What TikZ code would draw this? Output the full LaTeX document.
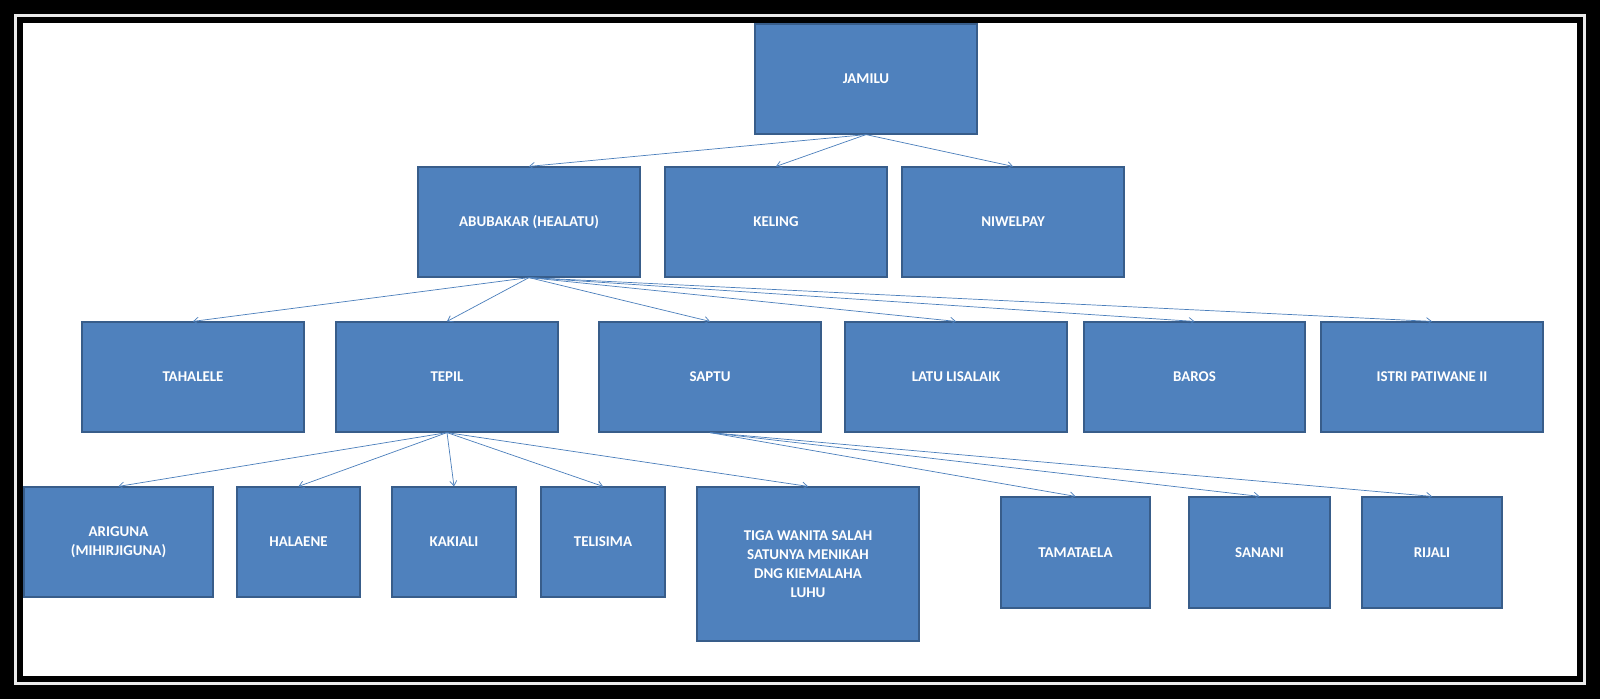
\documentclass[tikz,border=0pt]{standalone}
\usepackage{fontspec}
\setmainfont{Carlito}
\usetikzlibrary{arrows.meta}
\definecolor{bfill}{HTML}{4F81BD}
\definecolor{bdraw}{HTML}{385D8A}
\definecolor{lnk}{HTML}{4A7EBB}
\newcommand\bxat[6]{%
 \pgfmathsetmacro\bw{#4-#2}\pgfmathsetmacro\bh{#5-#3}%
 \pgfmathsetmacro\bcx{(#2+#4)/2}\pgfmathsetmacro\bcy{(#3+#5)/2}%
 \node[bx,minimum width=\bw bp,minimum height=\bh bp] (#1) at (\bcx,\bcy) {#6};}
\begin{document}
\begin{tikzpicture}[x=1bp,y=-1bp,
 bx/.style={draw=bdraw,line width=1.2bp,fill=bfill,text=white,font=\bfseries\fontsize{15}{19}\selectfont,align=center,inner sep=0},
 lk/.style={draw=lnk,line width=0.7bp,-{Straight Barb[length=5bp,width=7bp]}}]
\useasboundingbox (0,0) rectangle (1600,699);
\fill[black] (0,0) rectangle (1600,699);
\fill[white!85!gray] (14,14) rectangle (1586,685);
\fill[black] (17,17) rectangle (1583,682);
\fill[white] (23,23) rectangle (1577,676);
\bxat{jam}{755}{24}{977}{134}{JAMILU}
\bxat{abu}{418}{167}{640}{277}{ABUBAKAR (HEALATU)}
\bxat{kel}{665}{167}{887}{277}{KELING}
\bxat{niw}{902}{167}{1124}{277}{NIWELPAY}
\bxat{tah}{82}{322}{304}{432}{TAHALELE}
\bxat{tep}{336}{322}{558}{432}{TEPIL}
\bxat{sap}{599}{322}{821}{432}{SAPTU}
\bxat{lat}{845}{322}{1067}{432}{LATU LISALAIK}
\bxat{bar}{1084}{322}{1305}{432}{BAROS}
\bxat{ist}{1321}{322}{1543}{432}{ISTRI PATIWANE II}
\bxat{ari}{24}{487}{213}{597}{ARIGUNA\\(MIHIRJIGUNA)}
\bxat{hal}{237}{487}{360}{597}{HALAENE}
\bxat{kak}{392}{487}{516}{597}{KAKIALI}
\bxat{tel}{541}{487}{665}{597}{TELISIMA}
\bxat{tig}{697}{487}{919}{641}{TIGA WANITA SALAH\\SATUNYA MENIKAH\\DNG KIEMALAHA\\LUHU}
\bxat{tam}{1001}{497}{1150}{608}{TAMATAELA}
\bxat{san}{1189}{497}{1330}{608}{SANANI}
\bxat{rij}{1362}{497}{1502}{608}{RIJALI}
\foreach \c in {abu,kel,niw} \draw[lk] (jam.south) -- (\c.north);
\foreach \c in {tah,tep,sap,lat,bar,ist} \draw[lk] (abu.south) -- (\c.north);
\foreach \c in {ari,hal,kak,tel,tig} \draw[lk] (tep.south) -- (\c.north);
\foreach \c in {tam,san,rij} \draw[lk] (sap.south) -- (\c.north);
\end{tikzpicture}
\end{document}
